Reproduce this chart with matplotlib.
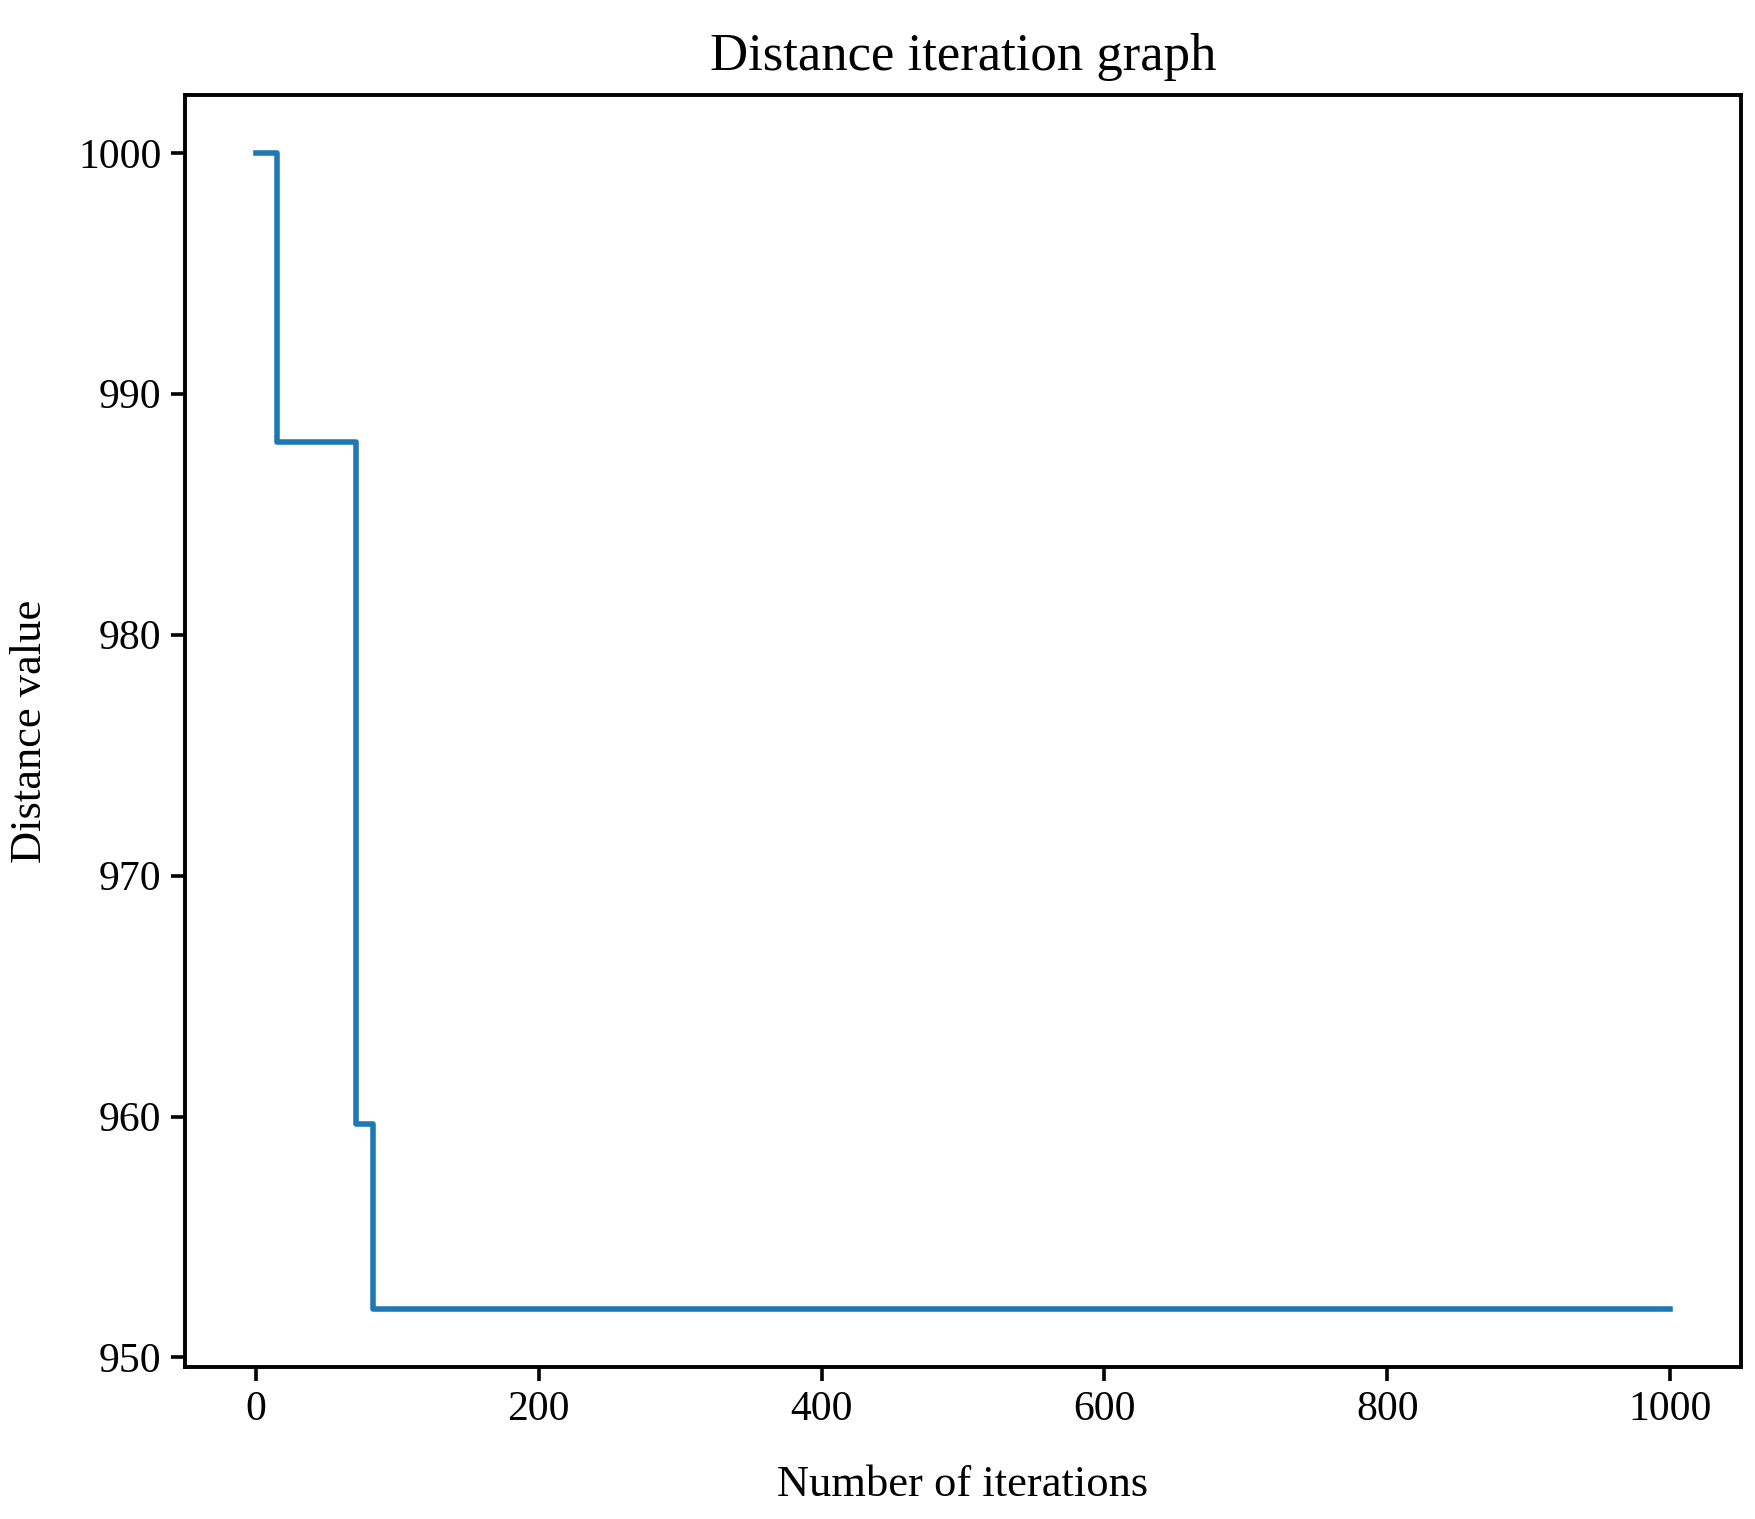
import matplotlib
matplotlib.use("Agg")
import matplotlib.pyplot as plt

# iteration at which the best distance changes, and the value from there on
iterations = [0, 15, 71, 83, 1000]
distance = [1000.0, 988.0, 959.7, 952.0, 952.0]

plt.rcParams['font.family'] = ['Liberation Serif', 'DejaVu Serif']

fig = plt.figure(figsize=(8.775, 7.595), dpi=200)
ax = fig.add_axes([0.1054, 0.100, 0.8866, 0.8375])

ax.step(iterations, distance, where='post', color='#1f77b4', linewidth=2.0)

ax.set_title("Distance iteration graph", fontsize=19, pad=9)
ax.set_xlabel("Number of iterations", fontsize=16, labelpad=13)
ax.set_ylabel("Distance value", fontsize=16, labelpad=10)

ax.set_xticks([0, 200, 400, 600, 800, 1000])
ax.set_yticks([950, 960, 970, 980, 990, 1000])
ax.tick_params(labelsize=15, length=5, width=1.3, colors='black')
for s in ax.spines.values():
    s.set_linewidth(1.4)

fig.savefig("out.png", dpi=200)
